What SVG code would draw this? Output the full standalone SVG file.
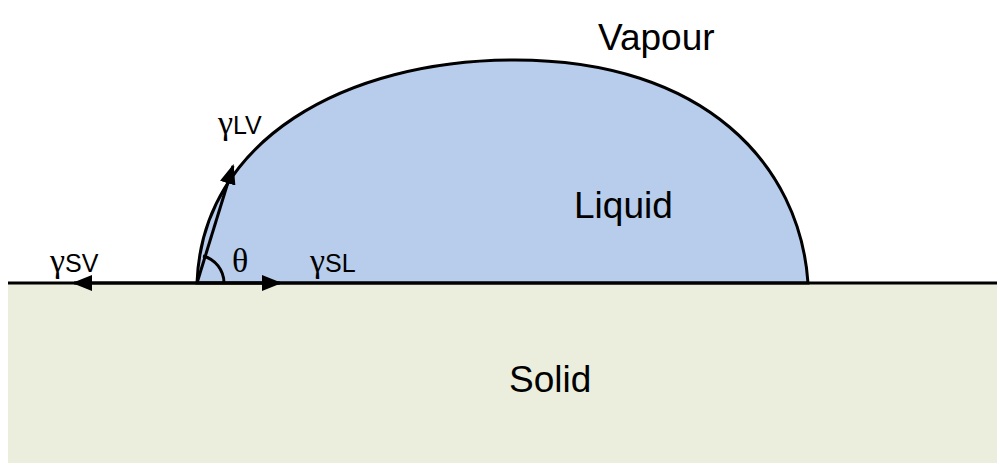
<svg xmlns="http://www.w3.org/2000/svg" width="1004" height="470" viewBox="0 0 1004 470">
<style>
text{font-family:"Liberation Sans",Arial,sans-serif;fill:#000}
.big{font-size:37px}
.g{font-family:"Liberation Serif",serif;font-size:34px}
.sub{font-size:25px}
.ln{stroke:#000;stroke-width:3;fill:none}
</style>
<defs>
<marker id="ah" viewBox="0 0 20 16" refX="18" refY="8" markerWidth="20" markerHeight="16" orient="auto" markerUnits="userSpaceOnUse">
<path d="M0,0 L20,8 L0,16 Z" fill="#000"/>
</marker>
</defs>
<rect id="solid" x="8" y="283" width="989" height="180" fill="#ebeedd"/>
<g id="drop">
<path d="M197,283 C202,140 345,60 515,60 C705,60 800,165 808,283 Z" fill="#b8cdec" stroke="#000" stroke-width="3"/>
</g>
<line x1="8" y1="283" x2="997" y2="283" class="ln"/>
<g id="connectors">
<path d="M197,283 L74,283" class="ln" marker-end="url(#ah)"/>
<path d="M197,283 L280,283" class="ln" marker-end="url(#ah)"/>
<path d="M197,283 L233,166" class="ln" marker-end="url(#ah)"/>
<path d="M203,256 A28,28 0 0 1 224,283" class="ln" stroke-width="2.5"/>
</g>
<text class="big" x="598" y="50">Vapour</text>
<text class="big" x="574" y="218">Liquid</text>
<text class="big" x="509" y="392">Solid</text>
<text x="218" y="134"><tspan class="g">γ</tspan><tspan class="sub">LV</tspan></text>
<text x="50" y="272"><tspan class="g">γ</tspan><tspan class="sub">SV</tspan></text>
<text x="310" y="272"><tspan class="g">γ</tspan><tspan class="sub">SL</tspan></text>
<text class="g" x="232" y="272">θ</text>
</svg>
